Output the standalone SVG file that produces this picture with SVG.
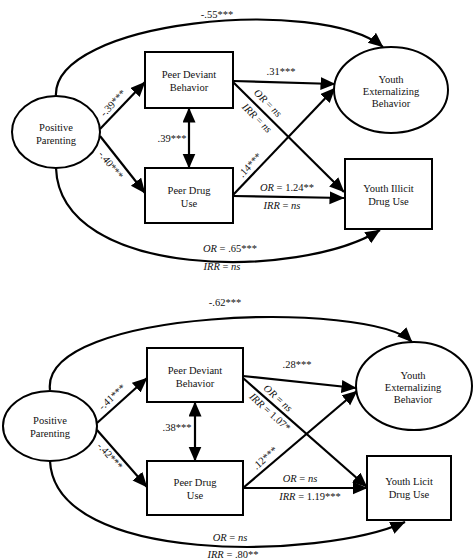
<svg xmlns="http://www.w3.org/2000/svg" width="474" height="560" viewBox="0 0 474 560" font-family="'Liberation Serif', 'Times New Roman', serif">
<style>
  text { font-family: "Liberation Serif", "Times New Roman", serif; font-size: 10.5px; fill: #111; }
  .lbl { text-anchor: middle; }
  .i { font-style: italic; }
  .node { fill: #fff; stroke: #000; stroke-width: 2; }
  .c { fill: none; stroke: #000; stroke-width: 2.2; marker-end: url(#ah); }
  .dbl { marker-start: url(#ah); }
</style>
<defs>
  <marker id="ah" markerUnits="userSpaceOnUse" markerWidth="16" markerHeight="14" refX="14.5" refY="6.5" orient="auto-start-reverse">
    <path d="M0,0 L15,6.5 L0,13 z" fill="#000"/>
  </marker>
</defs>
<rect width="474" height="560" fill="#fff"/>

<!-- ===== Top panel ===== -->
<g id="connectors-top">
  <path class="c" d="M56,97 C50,20 320,-5 383,47"/>
  <path class="c" d="M56,168 C60,280 300,280 380,230"/>
  <path class="c" d="M100,129 L145,82"/>
  <path class="c" d="M100,136 L145,193"/>
  <path class="c dbl" d="M189,108 L189,168"/>
  <path class="c" d="M233,81 L335,84"/>
  <path class="c" d="M233,82 L344,192"/>
  <path class="c" d="M233,195 L335,88"/>
  <path class="c" d="M233,196 L344,198"/>
</g>
<g id="labels-top">
  <text class="lbl" x="217" y="18">-.55***</text>
  <text class="lbl" x="281" y="75">.31***</text>
  <text class="lbl" x="172" y="142">.39***</text>
  <text class="lbl" x="287" y="191"><tspan class="i">OR</tspan> = 1.24**</text>
  <text class="lbl" x="282" y="209"><tspan class="i">IRR</tspan> = <tspan class="i">ns</tspan></text>
  <text class="lbl" x="230" y="252"><tspan class="i">OR</tspan> = .65***</text>
  <text class="lbl" x="222" y="270"><tspan class="i">IRR</tspan> = <tspan class="i">ns</tspan></text>
  <text class="lbl" transform="translate(113,103) rotate(-47)" y="3.5">-.39***</text>
  <text class="lbl" transform="translate(111,165) rotate(51)" y="3.5">-.40***</text>
  <text class="lbl" transform="translate(268,103) rotate(45)" y="3.5"><tspan class="i">OR</tspan> = <tspan class="i">ns</tspan></text>
  <text class="lbl" transform="translate(257,118) rotate(45)" y="3.5"><tspan class="i">IRR</tspan> = <tspan class="i">ns</tspan></text>
  <text class="lbl" transform="translate(250,165) rotate(-47)" y="3.5">.14***</text>
</g>
<g id="pp1">
  <ellipse class="node" cx="56" cy="132" rx="44" ry="36"/>
  <text class="lbl" x="56" y="131">Positive</text>
  <text class="lbl" x="56" y="144">Parenting</text>
</g>
<g id="pdb1">
  <rect class="node" x="145" y="52" width="88" height="56"/>
  <text class="lbl" x="189" y="78">Peer Deviant</text>
  <text class="lbl" x="189" y="91">Behavior</text>
</g>
<g id="pdu1">
  <rect class="node" x="145" y="168" width="88" height="55"/>
  <text class="lbl" x="189" y="194">Peer Drug</text>
  <text class="lbl" x="189" y="207">Use</text>
</g>
<g id="yeb1">
  <ellipse class="node" cx="391" cy="90" rx="57" ry="43"/>
  <text class="lbl" x="391" y="83">Youth</text>
  <text class="lbl" x="391" y="95">Externalizing</text>
  <text class="lbl" x="391" y="107">Behavior</text>
</g>
<g id="yidu1">
  <rect class="node" x="345" y="159" width="87" height="70"/>
  <text class="lbl" x="388.5" y="192">Youth Illicit</text>
  <text class="lbl" x="388.5" y="205">Drug Use</text>
</g>

<!-- ===== Bottom panel ===== -->
<g id="connectors-bottom">
  <path class="c" d="M50,390 C40,308 370,300 412,342"/>
  <path class="c" d="M50,461 C55,565 320,560 405,522"/>
  <path class="c" d="M97,423 L147,378"/>
  <path class="c" d="M97,430 L147,487"/>
  <path class="c dbl" d="M195,402 L195,461"/>
  <path class="c" d="M243,376 L356,388"/>
  <path class="c" d="M243,378 L367,487"/>
  <path class="c" d="M243,488 L357,391"/>
  <path class="c" d="M243,488 L367,488"/>
</g>
<g id="labels-bottom">
  <text class="lbl" x="225" y="306">-.62***</text>
  <text class="lbl" x="297" y="368">.28***</text>
  <text class="lbl" x="177" y="431">.38***</text>
  <text class="lbl" x="300" y="482"><tspan class="i">OR</tspan> = <tspan class="i">ns</tspan></text>
  <text class="lbl" x="310" y="500"><tspan class="i">IRR</tspan> = 1.19***</text>
  <text class="lbl" x="230" y="541"><tspan class="i">OR</tspan> = <tspan class="i">ns</tspan></text>
  <text class="lbl" x="233" y="558"><tspan class="i">IRR</tspan> = .80**</text>
  <text class="lbl" transform="translate(112,397) rotate(-43)" y="3.5">-.41***</text>
  <text class="lbl" transform="translate(110,456) rotate(48)" y="3.5">-.42***</text>
  <text class="lbl" transform="translate(278,398) rotate(42)" y="3.5"><tspan class="i">OR</tspan> = <tspan class="i">ns</tspan></text>
  <text class="lbl" transform="translate(270,412) rotate(42)" y="3.5"><tspan class="i">IRR</tspan> = 1.07*</text>
  <text class="lbl" transform="translate(265,458) rotate(-41)" y="3.5">.12***</text>
</g>
<g id="pp2">
  <ellipse class="node" cx="50" cy="426" rx="47" ry="35"/>
  <text class="lbl" x="50" y="424">Positive</text>
  <text class="lbl" x="50" y="437">Parenting</text>
</g>
<g id="pdb2">
  <rect class="node" x="147" y="348" width="96" height="54"/>
  <text class="lbl" x="195" y="374">Peer Deviant</text>
  <text class="lbl" x="195" y="387">Behavior</text>
</g>
<g id="pdu2">
  <rect class="node" x="147" y="461" width="96" height="54"/>
  <text class="lbl" x="195" y="486">Peer Drug</text>
  <text class="lbl" x="195" y="499">Use</text>
</g>
<g id="yeb2">
  <ellipse class="node" cx="414" cy="386" rx="58" ry="44"/>
  <text class="lbl" x="413" y="379">Youth</text>
  <text class="lbl" x="413" y="391">Externalizing</text>
  <text class="lbl" x="413" y="403">Behavior</text>
</g>
<g id="yldu2">
  <rect class="node" x="367" y="456" width="84" height="64"/>
  <text class="lbl" x="409" y="485">Youth Licit</text>
  <text class="lbl" x="409" y="498">Drug Use</text>
</g>
</svg>
